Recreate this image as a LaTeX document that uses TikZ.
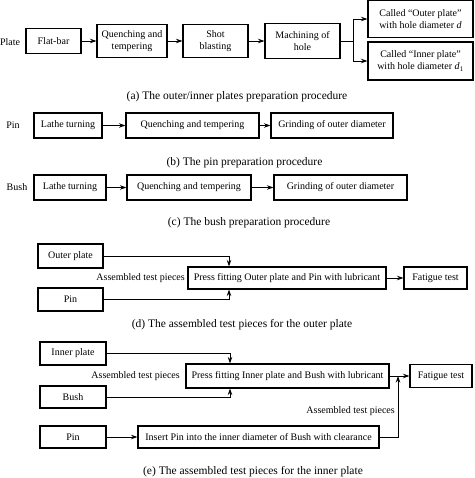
\documentclass[tikz,border=0pt]{standalone}
\usepackage{fontspec}
\setmainfont{Liberation Serif}
\usepackage{tikz}
\usetikzlibrary{arrows.meta}
\tikzstyle{stepbox}=[draw,line width=1.1pt,align=center,inner sep=1pt,font=\fontsize{10}{12}\selectfont]
\tikzstyle{flow}=[line width=0.9pt,-{Stealth[length=6.5pt,width=4.5pt]}]
\tikzstyle{tag}=[inner sep=0pt,font=\fontsize{10}{12}\selectfont]
\tikzstyle{caption}=[inner sep=0pt,font=\fontsize{11.5}{13}\selectfont]

\begin{document}
\begin{tikzpicture}[x=1pt,y=-1pt]
\useasboundingbox (0,0) rectangle (474,478);
\begin{scope}
    \node [tag] (plate) at (10,42) {Plate};
    \node [stepbox,minimum width=55pt,minimum height=25pt] (flatbar) at (53.5,41) {Flat-bar};
    \node [stepbox,minimum width=70pt,minimum height=33pt] (quencha) at (132,41) {Quenching and\\tempering};
    \node [stepbox,minimum width=65pt,minimum height=33pt] (shot) at (215.5,41) {Shot\\blasting};
    \node [stepbox,minimum width=75pt,minimum height=35pt] (machining) at (302.5,41) {Machining of\\hole};
    \node [stepbox,minimum width=105pt,minimum height=37pt] (outerpl) at (420.5,19) {Called ``Outer plate''\\with hole diameter \textit{d}};
    \node [stepbox,minimum width=105pt,minimum height=38pt] (innerpl) at (420.5,61) {Called ``Inner plate''\\with hole diameter \textit{d}\textsubscript{1}};
    \coordinate (branch) at (353,41);
    \draw [flow] (flatbar) -- (quencha);
    \draw [flow] (quencha) -- (shot);
    \draw [flow] (shot) -- (machining);
    \draw [line width=0.9pt] (machining.east) -- (branch);
    \draw [flow] (branch) |- (outerpl.west);
    \draw [flow] (branch) |- (innerpl.west);
    \node [caption] (capa) at (237,97) {(a) The outer/inner plates preparation procedure};
\end{scope}

\begin{scope}
    \node [tag] (pin) at (13,125.5) {Pin};
    \node [stepbox,minimum width=68pt,minimum height=25pt] (latheb) at (68,125.5) {Lathe turning};
    \node [stepbox,minimum width=133pt,minimum height=25pt] (quenchb) at (192.5,125.5) {Quenching and tempering};
    \node [stepbox,minimum width=122pt,minimum height=25pt] (grindb) at (332,125.5) {Grinding of outer diameter};
    \draw [flow] (latheb) -- (quenchb);
    \draw [flow] (quenchb) -- (grindb);
    \node [caption] (capb) at (244.5,163) {(b) The pin preparation procedure};
\end{scope}

\begin{scope}
    \node [tag] (bush) at (17,187.5) {Bush};
    \node [stepbox,minimum width=72pt,minimum height=25pt] (lathec) at (70,187.5) {Lathe turning};
    \node [stepbox,minimum width=124pt,minimum height=25pt] (quenchc) at (189,187.5) {Quenching and tempering};
    \node [stepbox,minimum width=133pt,minimum height=25pt] (grindc) at (340.5,187.5) {Grinding of outer diameter};
    \draw [flow] (lathec) -- (quenchc);
    \draw [flow] (quenchc) -- (grindc);
    \node [caption] (capc) at (249,223) {(c) The bush preparation procedure};
\end{scope}

\begin{scope}
    \node [stepbox,minimum width=65pt,minimum height=24pt] (outerd) at (70.5,256) {Outer plate};
    \node [stepbox,minimum width=65pt,minimum height=23pt] (pind) at (70.5,299.5) {Pin};
    \node [stepbox,minimum width=198pt,minimum height=22pt] (pressd) at (287,278) {Press fitting Outer plate and Pin with lubricant};
    \node [stepbox,minimum width=63pt,minimum height=22pt] (fatigued) at (435.5,278) {Fatigue test};
    \node [tag,anchor=east] (assemd) at (185,278) {Assembled test pieces};
    \coordinate (joind) at (229,0);
    \draw [flow] (outerd.east) -| (joind |- pressd.north);
    \draw [flow] (pind.east) -| (joind |- pressd.south);
    \draw [flow] (pressd) -- (fatigued);
    \node [caption] (capd) at (242,325) {(d) The assembled test pieces for the outer plate};
\end{scope}

\begin{scope}
    \node [stepbox,minimum width=66pt,minimum height=23pt] (innere) at (73,353.5) {Inner plate};
    \node [stepbox,minimum width=66pt,minimum height=22pt] (bushe) at (73,397) {Bush};
    \node [stepbox,minimum width=66pt,minimum height=22pt] (pine) at (73,437) {Pin};
    \node [stepbox,minimum width=203pt,minimum height=24pt] (presse) at (287.5,376) {Press fitting Inner plate and Bush with lubricant};
    \node [stepbox,minimum width=62pt,minimum height=23pt] (fatiguee) at (441,376) {Fatigue test};
    \node [stepbox,minimum width=241pt,minimum height=22pt] (insert) at (258.5,437) {Insert Pin into the inner diameter of Bush with clearance};
    \node [tag,anchor=east] (assemea) at (180,376) {Assembled test pieces};
    \node [tag,anchor=east] (assemeb) at (395,411) {Assembled test pieces};
    \coordinate (joine) at (230,0);
    \coordinate (riser) at (398,0);
    \draw [flow] (innere.east) -| (joine |- presse.north);
    \draw [flow] (bushe.east) -| (joine |- presse.south);
    \draw [flow] (presse) -- (fatiguee);
    \draw [flow] (pine) -- (insert);
    \draw [flow] (insert.east) -| (riser |- presse.east);
    \node [caption] (cape) at (253,472) {(e) The assembled test pieces for the inner plate};
\end{scope}
\end{tikzpicture}
\end{document}
